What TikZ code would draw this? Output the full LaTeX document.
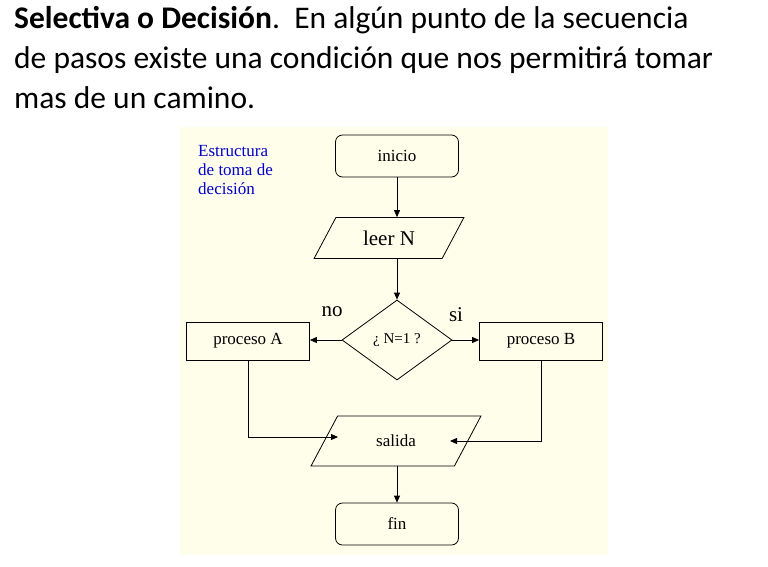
\documentclass[tikz,border=0pt]{standalone}
\usepackage{fontspec}
\setmainfont{Carlito}
\newfontfamily\ser{Liberation Serif}
\usetikzlibrary{shapes.geometric,arrows.meta}
\begin{document}
\begin{tikzpicture}[x=1pt,y=-1pt,
  box/.style={draw,thick,minimum width=123pt,minimum height=38pt,font=\ser\fontsize{17}{17}\selectfont},
  rbox/.style={box,rounded corners=7pt,minimum height=42pt},
  para/.style={draw,thick,trapezium,trapezium left angle=62,trapezium right angle=118,minimum width=150pt,minimum height=40pt,font=\ser\fontsize{17}{17}\selectfont,inner xsep=2pt},
  arr/.style={thick,-{Triangle[length=7pt,width=6pt]}}]
\useasboundingbox (0,0) rectangle (768,566);
\fill[yellow!8!white] (180,127) rectangle (608,555);
\node[anchor=north west,align=left,font=\fontsize{31.5}{40}\selectfont,inner sep=0] (title) at (14,6)
 {\textbf{Selectiva o Decisión}.\ \ En algún punto de la secuencia\\de pasos existe una condición que nos permitirá tomar\\mas de un camino.};
\node[anchor=north west,align=left,text=blue!80!black,font=\ser\fontsize{17}{19}\selectfont,inner sep=0] (lab) at (198,145) {Estructura\\de toma de\\decisión};
\node[rbox] (ini) at (397,156) {inicio};
\node[para,font=\ser\fontsize{21}{21}\selectfont] (leer) at (389,238) {leer N};
\node[draw,thick,diamond,minimum width=110pt,minimum height=80pt,inner sep=0,font=\ser\fontsize{15}{15}\selectfont] (dec) at (397,340) {¿ N=1 ?};
\node[box] (pa) at (248,341) {proceso A};
\node[box] (pb) at (541,341) {proceso B};
\node[para,minimum width=170pt,minimum height=42pt] (sal) at (396,441) {salida};
\node[rbox] (fin) at (397,524) {fin};
\node[font=\ser\fontsize{21}{21}\selectfont] (no) at (332,312) {no};
\node[font=\ser\fontsize{21}{21}\selectfont] (si) at (456,315) {si};
\draw[arr] (ini) -- (ini|-leer.north);
\draw[arr] (leer.south-|dec.north) -- (dec.north);
\draw[arr] (dec.west) -- (dec.west-|pa.east);
\draw[arr] (dec.east) -- (dec.east-|pb.west);
\draw[arr] (pa.south) |- (338,437);
\draw[arr] (pb.south) |- (450,441);
\draw[arr] (sal.south-|fin.north) -- (fin.north);
\end{tikzpicture}
\end{document}
